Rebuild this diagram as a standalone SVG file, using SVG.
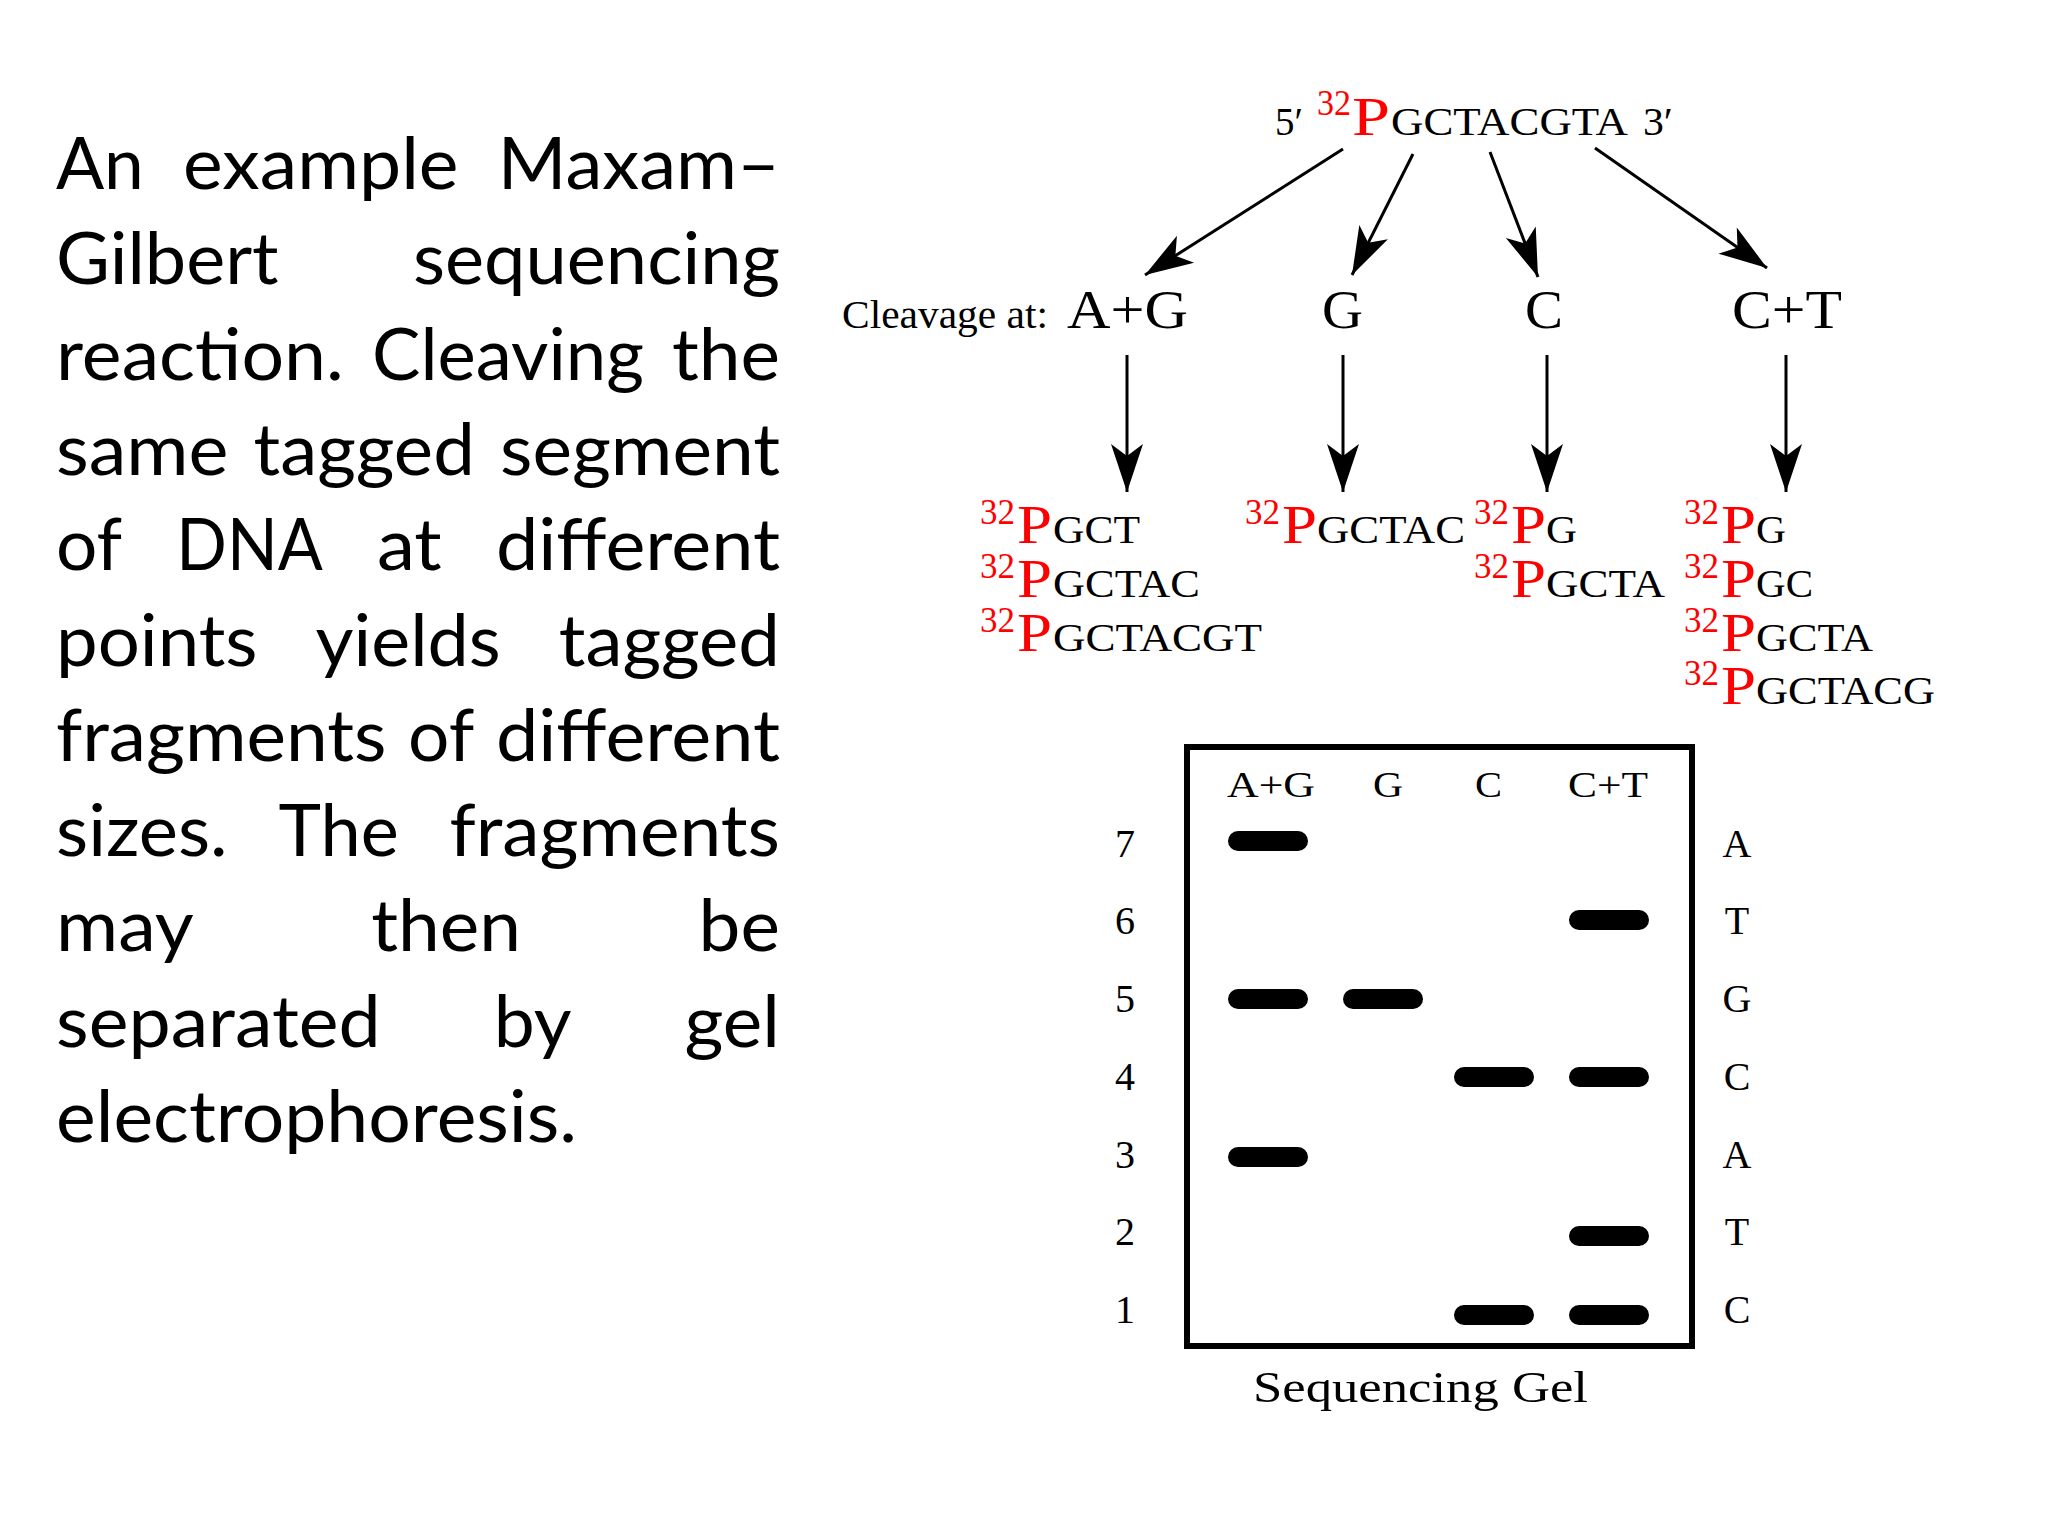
<svg xmlns="http://www.w3.org/2000/svg" width="2048" height="1536" viewBox="0 0 2048 1536">
<style>
.body{font-family:Lato,"Open Sans","Liberation Sans",sans-serif;font-size:71.5px;fill:#000}
.ser{font-family:"Liberation Serif","Times New Roman",serif;fill:#000}
.red{fill:#ff0000}
.sup{font-size:35px}
.pp{font-size:54px}
.seq{font-size:40px}
.cl{font-size:55px}
.lane{font-size:36px}
.num{font-size:40px;text-anchor:middle}
.line{stroke:#000;stroke-width:3;fill:none}
.band{fill:#000}
</style>
<defs>
<marker id="ah" markerUnits="userSpaceOnUse" markerWidth="60" markerHeight="40" viewBox="-50 -20 60 40" refX="0" refY="0" orient="auto">
<path d="M0,0 L-48,-16 L-36,0 L-48,16 Z" fill="#000"/>
</marker>
</defs>
<rect width="2048" height="1536" fill="#fff"/>

<g id="caption" class="body">
<text x="56" y="189" textLength="87.9" lengthAdjust="spacingAndGlyphs">An</text>
<text x="183.1" y="189" textLength="275.5" lengthAdjust="spacingAndGlyphs">example</text>
<text x="497.8" y="189" textLength="282.2" lengthAdjust="spacingAndGlyphs">Maxam–</text>
<text x="56" y="284.3" textLength="222.6" lengthAdjust="spacingAndGlyphs">Gilbert</text>
<text x="413" y="284.3" textLength="367" lengthAdjust="spacingAndGlyphs">sequencing</text>
<text x="56" y="379.6" textLength="287.9" lengthAdjust="spacingAndGlyphs">reaction.</text>
<text x="372" y="379.6" textLength="271.9" lengthAdjust="spacingAndGlyphs">Cleaving</text>
<text x="671.9" y="379.6" textLength="108.1" lengthAdjust="spacingAndGlyphs">the</text>
<text x="56" y="474.9" textLength="172.5" lengthAdjust="spacingAndGlyphs">same</text>
<text x="253.6" y="474.9" textLength="221.2" lengthAdjust="spacingAndGlyphs">tagged</text>
<text x="500" y="474.9" textLength="280" lengthAdjust="spacingAndGlyphs">segment</text>
<text x="56" y="570.2" textLength="66.2" lengthAdjust="spacingAndGlyphs">of</text>
<text x="176.3" y="570.2" textLength="146.5" lengthAdjust="spacingAndGlyphs">DNA</text>
<text x="376.9" y="570.2" textLength="64.8" lengthAdjust="spacingAndGlyphs">at</text>
<text x="495.9" y="570.2" textLength="284.1" lengthAdjust="spacingAndGlyphs">different</text>
<text x="56" y="665.5" textLength="201.5" lengthAdjust="spacingAndGlyphs">points</text>
<text x="315.6" y="665.5" textLength="185.1" lengthAdjust="spacingAndGlyphs">yields</text>
<text x="558.8" y="665.5" textLength="221.2" lengthAdjust="spacingAndGlyphs">tagged</text>
<text x="56" y="760.8" textLength="330.5" lengthAdjust="spacingAndGlyphs">fragments</text>
<text x="408.1" y="760.8" textLength="66.2" lengthAdjust="spacingAndGlyphs">of</text>
<text x="495.9" y="760.8" textLength="284.1" lengthAdjust="spacingAndGlyphs">different</text>
<text x="56" y="856.1" textLength="171.6" lengthAdjust="spacingAndGlyphs">sizes.</text>
<text x="278.5" y="856.1" textLength="120.2" lengthAdjust="spacingAndGlyphs">The</text>
<text x="449.5" y="856.1" textLength="330.5" lengthAdjust="spacingAndGlyphs">fragments</text>
<text x="56" y="951.4" textLength="137.8" lengthAdjust="spacingAndGlyphs">may</text>
<text x="371.2" y="951.4" textLength="149.9" lengthAdjust="spacingAndGlyphs">then</text>
<text x="698.6" y="951.4" textLength="81.4" lengthAdjust="spacingAndGlyphs">be</text>
<text x="56" y="1046.7" textLength="324.7" lengthAdjust="spacingAndGlyphs">separated</text>
<text x="493.7" y="1046.7" textLength="77.8" lengthAdjust="spacingAndGlyphs">by</text>
<text x="684.6" y="1046.7" textLength="95.4" lengthAdjust="spacingAndGlyphs">gel</text>
<text x="56" y="1142" textLength="521.1" lengthAdjust="spacingAndGlyphs">electrophoresis.</text>
</g>

<g id="strand" class="ser">
<text class="seq" x="1275" y="135" textLength="28" lengthAdjust="spacingAndGlyphs">5′</text>
<text class="sup red" x="1317" y="115" textLength="34" lengthAdjust="spacingAndGlyphs">32</text>
<text class="pp red" x="1352" y="135" textLength="38" lengthAdjust="spacingAndGlyphs">P</text>
<text class="seq" x="1391" y="135" textLength="237" lengthAdjust="spacingAndGlyphs">GCTACGTA</text>
<text class="seq" x="1643" y="135" textLength="30" lengthAdjust="spacingAndGlyphs">3′</text>
</g>

<g id="cleavage" class="ser">
<text x="842" y="328" font-size="40" textLength="206" lengthAdjust="spacingAndGlyphs">Cleavage at:</text>
<text class="cl" x="1067" y="328" textLength="121" lengthAdjust="spacingAndGlyphs">A+G</text>
<text class="cl" x="1322" y="328" textLength="41" lengthAdjust="spacingAndGlyphs">G</text>
<text class="cl" x="1525" y="328" textLength="38" lengthAdjust="spacingAndGlyphs">C</text>
<text class="cl" x="1732" y="328" textLength="110" lengthAdjust="spacingAndGlyphs">C+T</text>
</g>

<g id="connectors">
<line class="line" x1="1343" y1="149" x2="1145" y2="275" marker-end="url(#ah)"/>
<line class="line" x1="1413" y1="154" x2="1352" y2="275" marker-end="url(#ah)"/>
<line class="line" x1="1490" y1="152" x2="1538" y2="277" marker-end="url(#ah)"/>
<line class="line" x1="1595" y1="148" x2="1767" y2="268" marker-end="url(#ah)"/>
<line class="line" x1="1127" y1="355" x2="1127" y2="492" marker-end="url(#ah)"/>
<line class="line" x1="1343" y1="355" x2="1343" y2="492" marker-end="url(#ah)"/>
<line class="line" x1="1547" y1="355" x2="1547" y2="492" marker-end="url(#ah)"/>
<line class="line" x1="1786" y1="355" x2="1786" y2="492" marker-end="url(#ah)"/>
</g>

<g id="fragments-AG" class="ser">
<text class="sup red" x="980" y="524" textLength="35" lengthAdjust="spacingAndGlyphs">32</text>
<text class="pp red" x="1017" y="543" textLength="35" lengthAdjust="spacingAndGlyphs">P</text>
<text class="seq" x="1053" y="543" textLength="87" lengthAdjust="spacingAndGlyphs">GCT</text>
<text class="sup red" x="980" y="578" textLength="35" lengthAdjust="spacingAndGlyphs">32</text>
<text class="pp red" x="1017" y="597" textLength="35" lengthAdjust="spacingAndGlyphs">P</text>
<text class="seq" x="1053" y="597" textLength="147" lengthAdjust="spacingAndGlyphs">GCTAC</text>
<text class="sup red" x="980" y="632" textLength="35" lengthAdjust="spacingAndGlyphs">32</text>
<text class="pp red" x="1017" y="651" textLength="35" lengthAdjust="spacingAndGlyphs">P</text>
<text class="seq" x="1053" y="651" textLength="209" lengthAdjust="spacingAndGlyphs">GCTACGT</text>
</g>

<g id="fragments-G" class="ser">
<text class="sup red" x="1245" y="524" textLength="35" lengthAdjust="spacingAndGlyphs">32</text>
<text class="pp red" x="1282" y="543" textLength="35" lengthAdjust="spacingAndGlyphs">P</text>
<text class="seq" x="1317" y="543" textLength="148" lengthAdjust="spacingAndGlyphs">GCTAC</text>
</g>

<g id="fragments-C" class="ser">
<text class="sup red" x="1474" y="524" textLength="35" lengthAdjust="spacingAndGlyphs">32</text>
<text class="pp red" x="1511" y="543" textLength="35" lengthAdjust="spacingAndGlyphs">P</text>
<text class="seq" x="1546" y="543" textLength="31" lengthAdjust="spacingAndGlyphs">G</text>
<text class="sup red" x="1474" y="578" textLength="35" lengthAdjust="spacingAndGlyphs">32</text>
<text class="pp red" x="1511" y="597" textLength="35" lengthAdjust="spacingAndGlyphs">P</text>
<text class="seq" x="1546" y="597" textLength="119" lengthAdjust="spacingAndGlyphs">GCTA</text>
</g>

<g id="fragments-CT" class="ser">
<text class="sup red" x="1684" y="524" textLength="35" lengthAdjust="spacingAndGlyphs">32</text>
<text class="pp red" x="1721" y="543" textLength="35" lengthAdjust="spacingAndGlyphs">P</text>
<text class="seq" x="1756" y="543" textLength="30" lengthAdjust="spacingAndGlyphs">G</text>
<text class="sup red" x="1684" y="578" textLength="35" lengthAdjust="spacingAndGlyphs">32</text>
<text class="pp red" x="1721" y="597" textLength="35" lengthAdjust="spacingAndGlyphs">P</text>
<text class="seq" x="1756" y="597" textLength="57" lengthAdjust="spacingAndGlyphs">GC</text>
<text class="sup red" x="1684" y="632" textLength="35" lengthAdjust="spacingAndGlyphs">32</text>
<text class="pp red" x="1721" y="651" textLength="35" lengthAdjust="spacingAndGlyphs">P</text>
<text class="seq" x="1756" y="651" textLength="117" lengthAdjust="spacingAndGlyphs">GCTA</text>
<text class="sup red" x="1684" y="685" textLength="35" lengthAdjust="spacingAndGlyphs">32</text>
<text class="pp red" x="1721" y="704" textLength="35" lengthAdjust="spacingAndGlyphs">P</text>
<text class="seq" x="1756" y="704" textLength="179" lengthAdjust="spacingAndGlyphs">GCTACG</text>
</g>

<g id="gel">
<rect x="1187" y="747" width="505" height="599" fill="none" stroke="#000" stroke-width="6"/>
<g class="ser lane">
<text x="1227" y="797" textLength="88" lengthAdjust="spacingAndGlyphs">A+G</text>
<text x="1373" y="797" textLength="30" lengthAdjust="spacingAndGlyphs">G</text>
<text x="1475" y="797" textLength="27" lengthAdjust="spacingAndGlyphs">C</text>
<text x="1568" y="797" textLength="80" lengthAdjust="spacingAndGlyphs">C+T</text>
</g>
<g class="band">
<rect x="1228" y="831" width="80" height="20" rx="10"/>
<rect x="1228" y="989" width="80" height="20" rx="10"/>
<rect x="1228" y="1147" width="80" height="20" rx="10"/>
<rect x="1343" y="989" width="80" height="20" rx="10"/>
<rect x="1454" y="1067" width="80" height="20" rx="10"/>
<rect x="1454" y="1305" width="80" height="20" rx="10"/>
<rect x="1569" y="910" width="80" height="20" rx="10"/>
<rect x="1569" y="1067" width="80" height="20" rx="10"/>
<rect x="1569" y="1226" width="80" height="20" rx="10"/>
<rect x="1569" y="1305" width="80" height="20" rx="10"/>
</g>
<g class="ser num">
<text x="1125" y="857">7</text>
<text x="1125" y="934">6</text>
<text x="1125" y="1012">5</text>
<text x="1125" y="1090">4</text>
<text x="1125" y="1168">3</text>
<text x="1125" y="1245">2</text>
<text x="1125" y="1323">1</text>
<text x="1737" y="857">A</text>
<text x="1737" y="934">T</text>
<text x="1737" y="1012">G</text>
<text x="1737" y="1090">C</text>
<text x="1737" y="1168">A</text>
<text x="1737" y="1245">T</text>
<text x="1737" y="1323">C</text>
</g>
<text class="ser" x="1253" y="1402" font-size="45" textLength="335" lengthAdjust="spacingAndGlyphs">Sequencing Gel</text>
</g>
</svg>
